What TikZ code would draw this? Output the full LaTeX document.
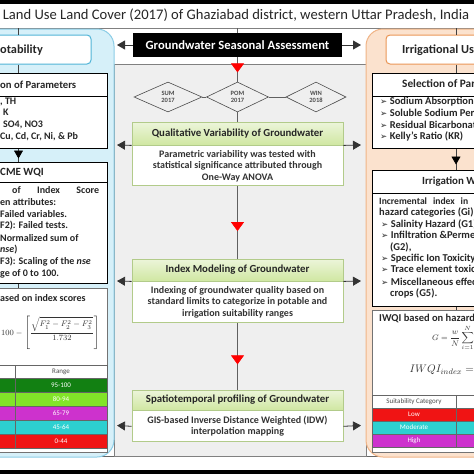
\documentclass[tikz,border=0pt]{standalone}
\usepackage{amsmath}
\usepackage{fontspec}
\setmainfont{Carlito}
\newfontfamily\symfont{DejaVu Sans}
\usetikzlibrary{shapes.geometric,arrows.meta,decorations.markings}
\definecolor{panelB}{RGB}{214,240,249}
\definecolor{panelBd}{RGB}{140,205,230}
\definecolor{boxBd}{RGB}{80,180,215}
\definecolor{panelO}{RGB}{251,226,206}
\definecolor{panelOd}{RGB}{240,180,135}
\definecolor{boxOd}{RGB}{235,150,85}
\definecolor{midgray}{RGB}{239,239,239}
\definecolor{hdrT}{RGB}{236,245,218}
\definecolor{hdrB}{RGB}{208,231,162}
\definecolor{hdrBd}{RGB}{178,203,138}
\definecolor{cGreen}{RGB}{18,128,18}
\definecolor{cLime}{RGB}{130,228,40}
\definecolor{cMag}{RGB}{205,50,205}
\definecolor{cCyan}{RGB}{45,208,208}
\definecolor{cRed}{RGB}{240,20,20}
\newcommand{\bul}{{\symfont\fontsize{8.5}{8}\selectfont ➢}\hspace{2.5pt}}
\begin{document}
\begin{tikzpicture}[x=1pt,y=-1pt,
  lbl/.style={inner sep=0pt, anchor=west, text=black!85, font=\bfseries\fontsize{10}{11}\selectfont},
  rlbl/.style={lbl, font=\bfseries\fontsize{10.5}{11}\selectfont},
  hlbl/.style={lbl, font=\bfseries\fontsize{12.3}{13}\selectfont},
  wbox/.style={draw=black, line width=0.9pt, fill=white, inner sep=0pt},
  chdr/.style={top color=hdrT, bottom color=hdrB, draw=hdrBd, line width=0.8pt, minimum width=211pt, inner sep=0pt, text=black!85, font=\bfseries\fontsize{10.8}{12}\selectfont},
  cbody/.style={draw=hdrBd, line width=0.8pt, fill=white, minimum width=211pt, inner sep=0pt, align=center, text=black!80, font=\bfseries\fontsize{10}{11.5}\selectfont},
  dia/.style={diamond, draw=gray!60!black, fill=midgray, line width=0.6pt, minimum height=30pt, inner sep=0pt, aspect=2.2, align=center, text=black!70, font=\bfseries\fontsize{6.5}{7.5}\selectfont},
  cline/.style={draw=gray!75!black, line width=0.7pt},
  sline/.style={draw=black!75, line width=0.7pt},
  conn/.style={draw=black!80, line width=0.8pt, -{Triangle[length=8pt,width=9pt]}},
  redmid/.style={cline, postaction={decorate}, decoration={markings, mark=at position 0.62 with {\arrow{Triangle[length=9pt,width=13pt,color=red]}}}},
  blkmid/.style={sline, postaction={decorate}, decoration={markings, mark=at position 0.75 with {\arrow{Triangle[length=8pt,width=9pt,color=black]}}}},
  cell/.style={draw=black!60, line width=0.4pt, inner sep=0pt, text=white, font=\fontsize{7}{8}\selectfont}
]
\useasboundingbox (0,0) rectangle (474,474);
\clip (0,0) rectangle (474,474);
\fill[white] (0,0) rectangle (474,474);
% frame bars and separator lines
\fill[black] (0,0) rectangle (474,4);
\fill[black] (0,470) rectangle (474,474);
\node[inner sep=0pt, text=black!85, font=\fontsize{14.6}{16}\selectfont] (title) at (236,15) {Land Use Land Cover (2017) of Ghaziabad district, western Uttar Pradesh, India};
\draw[gray, line width=0.6pt] (0,28) -- (474,28);
\draw[gray!80!black, line width=0.8pt] (0,456) -- (474,456);
% central grey field
\draw[fill=midgray, draw=gray, line width=0.6pt] (114,64) rectangle (366,456);
% side panels
\draw[fill=panelB, draw=panelBd, line width=1pt, rounded corners=17pt] (-30,29) rectangle (114,457);
\draw[fill=panelO, draw=panelOd, line width=1pt, rounded corners=17pt] (366,29) rectangle (510,457);

% ---------- centre column ----------
\node[fill=black, text=white, font=\bfseries\fontsize{12.6}{14}\selectfont, minimum width=209pt, minimum height=24pt, inner sep=0pt] (bb) at (237.5,45) {Groundwater Seasonal Assessment};
\coordinate (tC) at (237.5,28);
\draw[cline] (tC) -- (bb.north);
\node[dia, minimum width=68pt] (sum) at (168,97) {SUM\\2017};
\node[dia, minimum width=62pt] (pom) at (237.5,97) {POM\\2017};
\node[dia, minimum width=60pt] (win) at (316,97) {WIN\\2018};
\draw[cline] (sum.east) -- (pom.west);
\draw[cline] (pom.east) -- (win.west);
\draw[redmid] (bb.south) -- (pom.north);

\node[chdr, minimum height=23pt] (qh) at (237.5,133.5) {Qualitative Variability of Groundwater};
\node[cbody, minimum height=40pt, anchor=north] (qb) at (qh.south) {Parametric variability was tested with\\statistical significance attributed through\\One-Way ANOVA};
\draw[cline] (pom.south) -- (qh.north);

\node[chdr, minimum height=22pt] (ih) at (237.5,270) {Index Modeling of Groundwater};
\node[cbody, minimum height=41pt, anchor=north] (ib) at (ih.south) {Indexing of groundwater quality based on\\standard limits to categorize in potable and\\irrigation suitability ranges};
\draw[redmid] (qb.south) -- (ih.north);

\node[chdr, minimum height=20pt] (sh) at (237.5,400) {Spatiotemporal profiling of Groundwater};
\node[cbody, minimum height=31pt, anchor=north] (sb) at (sh.south) {GIS-based Inverse Distance Weighted (IDW)\\interpolation mapping};
\draw[redmid] (ib.south) -- (sh.north);

% arrows to the side panels
\coordinate (aL0) at (117,45);   \coordinate (aR0) at (361,45);
\coordinate (aL1) at (117,145);  \coordinate (aR1) at (361,145);
\coordinate (aL2) at (117,281);  \coordinate (aR2) at (361,281);
\coordinate (aL3) at (117,425.5);\coordinate (aR3) at (361,425.5);
\draw[conn] (bb.west) -- (aL0);
\draw[conn] (bb.east) -- (aR0);
\draw[conn] (qh.south west) -- (aL1);
\draw[conn] (qh.south east) -- (aR1);
\draw[conn] (ih.south west) -- (aL2);
\draw[conn] (ih.south east) -- (aR2);
\draw[conn] (sb.west) -- (aL3);
\draw[conn] (sb.east) -- (aR3);

% ---------- left panel ----------
\node[draw=boxBd, line width=1pt, fill=white, rounded corners=4pt, minimum width=145pt, minimum height=29pt, inner sep=0pt] (otab) at (18.5,49.5) {};
\coordinate (tL) at (18.5,28);
\draw[sline] (tL) -- (otab.north);
\node[hlbl] (otabT) at (0,50) {otability};

\node[wbox, minimum width=177pt, minimum height=23pt] (selLh) at (18.5,84.5) {};
\node[wbox, minimum width=177pt, minimum height=52pt, anchor=north] (selLb) at (selLh.south) {};
\draw[sline] (otab.south) -- (selLh.north);
\node[lbl, font=\bfseries\fontsize{10.7}{12}\selectfont] (selLT) at (0,85) {on of Parameters};
\node[lbl] (p1) at (0,102) {, TH};
\node[lbl] (p2) at (3,112.5) {K};
\node[lbl] (p3) at (3,124.5) {SO4, NO3};
\node[lbl] (p4) at (0,137) {Cu, Cd, Cr, Ni, \& Pb};

\node[wbox, minimum width=177pt, minimum height=20pt] (cmeh) at (18.5,172) {};
\node[wbox, minimum width=177pt, minimum height=101pt, anchor=north] (cmeb) at (cmeh.south) {};
\draw[blkmid] (selLb.south) -- (cmeh.north);
\node[lbl, font=\bfseries\fontsize{11}{12}\selectfont] (cmeT) at (0,172.5) {CME WQI};
\node[lbl] (c1) at (12,190) {\makebox[87pt][s]{of\hfill Index\hfill Score}};
\node[lbl] (c2) at (0,202) {en attributes:};
\node[lbl] (c3) at (0,214) {Failed variables.};
\node[lbl] (c4) at (0,226) {F2): Failed tests.};
\node[lbl] (c5) at (0,238) {Normalized sum of};
\node[lbl] (c6) at (0,250) {\textit{nse})};
\node[lbl] (c7) at (0,262) {F3): Scaling of the \textit{nse}};
\node[lbl] (c8) at (0,274) {ge of 0 to 100.};

\node[draw=black!55, line width=0.8pt, fill=white, minimum width=177pt, minimum height=164pt, inner sep=0pt] (idxL) at (18.5,370) {};
\draw[sline] (cmeb.south) -- (idxL.north);
\node[lbl] (iL) at (0,298) {ased on index scores};
\node[inner sep=0pt, anchor=west, text=black!80, font=\fontsize{8}{9}\selectfont] (fL) at (1,333) {$100-\left[\dfrac{\sqrt{F_1^2-F_2^2-F_3^2}}{1.732}\right]$};
\node[cell, fill=white, minimum width=85pt, minimum height=13pt] (la0) at (-27.5,371.5) {};
\node[cell, fill=white, minimum width=92pt, minimum height=13pt, text=black!70] (lb0) at (61,371.5) {Range};
\foreach \c/\t [count=\i] in {cGreen/95-100, cLime/80-94, cMag/65-79, cCyan/45-64, cRed/0-44} {
  \node[cell, fill=\c, minimum width=85pt, minimum height=14pt] (la\i) at (-27.5,371+14*\i) {};
  \node[cell, fill=\c, minimum width=92pt, minimum height=14pt] (lb\i) at (61,371+14*\i) {\t};
}

% ---------- right panel ----------
\node[draw=boxOd, line width=1pt, fill=white, rounded corners=4pt, minimum width=140pt, minimum height=29pt, inner sep=0pt] (irr) at (456,49.5) {};
\coordinate (tR) at (456,28);
\draw[sline] (tR) -- (irr.north);
\node[hlbl] (irrT) at (402,50) {Irrigational Use};

\node[wbox, minimum width=168pt, minimum height=23pt] (selRh) at (456,84.5) {};
\node[wbox, minimum width=168pt, minimum height=52pt, anchor=north] (selRb) at (selRh.south) {};
\draw[sline] (irr.south) -- (selRh.north);
\node[lbl, font=\bfseries\fontsize{11.3}{12}\selectfont] (selRT) at (402,84) {Selection of Parameters};
\node[rlbl] (r1) at (380,102) {\bul Sodium Absorption Ratio};
\node[rlbl] (r2) at (380,113.5) {\bul Soluble Sodium Percentage};
\node[rlbl] (r3) at (380,125) {\bul Residual Bicarbonate};
\node[rlbl] (r4) at (380,136.5) {\bul Kelly's Ratio (KR)};

\node[wbox, minimum width=168pt, minimum height=23pt] (irwh) at (456,181.5) {};
\node[wbox, minimum width=168pt, minimum height=113pt, anchor=north] (irwb) at (irwh.south) {};
\draw[blkmid] (selRb.south) -- (irwh.north);
\node[lbl, font=\bfseries\fontsize{10.9}{12}\selectfont] (irwT) at (422,182) {Irrigation Water};
\node[lbl, font=\bfseries\fontsize{9.6}{11}\selectfont] (w1) at (379,201) {\makebox[89pt][s]{Incremental\hfill index\hfill in}};
\node[rlbl] (w2) at (379,212.5) {hazard categories (Gi):};
\node[rlbl] (w3) at (381,224) {\bul Salinity Hazard (G1),};
\node[rlbl] (w4) at (381,235.5) {\bul Infiltration \&Permeability};
\node[rlbl] (w5) at (390,247) {(G2),};
\node[rlbl] (w6) at (381,258.5) {\bul Specific Ion Toxicity};
\node[rlbl] (w7) at (381,270) {\bul Trace element toxicity};
\node[rlbl] (w8) at (381,281.5) {\bul Miscellaneous effects on};
\node[rlbl] (w9) at (390,293) {crops (G5).};

\node[draw=black!55, line width=0.8pt, fill=white, minimum width=168pt, minimum height=142pt, inner sep=0pt] (iwqi) at (456,381) {};
\draw[sline] (irwb.south) -- (iwqi.north);
\node[rlbl] (iwT) at (379,319) {IWQI based on hazard categories};
\node[inner sep=0pt, anchor=east, text=black!80, font=\fontsize{8.5}{9}\selectfont] (fG) at (474,338) {$G=\dfrac{w}{N}\displaystyle\sum_{i=1}^{N}$};
\node[inner sep=0pt, anchor=east, text=black!80, font=\fontsize{11.3}{12}\selectfont] (fI) at (474,370) {$IWQI_{index}=$};
\node[cell, fill=white, minimum width=84pt, minimum height=13pt, text=black!70] (ra0) at (414,401.5) {Suitability Category};
\node[cell, fill=white, minimum width=84pt, minimum height=13pt] (rb0) at (498,401.5) {};
\foreach \c/\t [count=\i] in {cRed/Low, cCyan/Moderate, cMag/High} {
  \node[cell, fill=\c, minimum width=84pt, minimum height=13pt] (ra\i) at (414,401.5+13*\i) {\t};
  \node[cell, fill=\c, minimum width=84pt, minimum height=13pt] (rb\i) at (498,401.5+13*\i) {};
}
\end{tikzpicture}
\end{document}
